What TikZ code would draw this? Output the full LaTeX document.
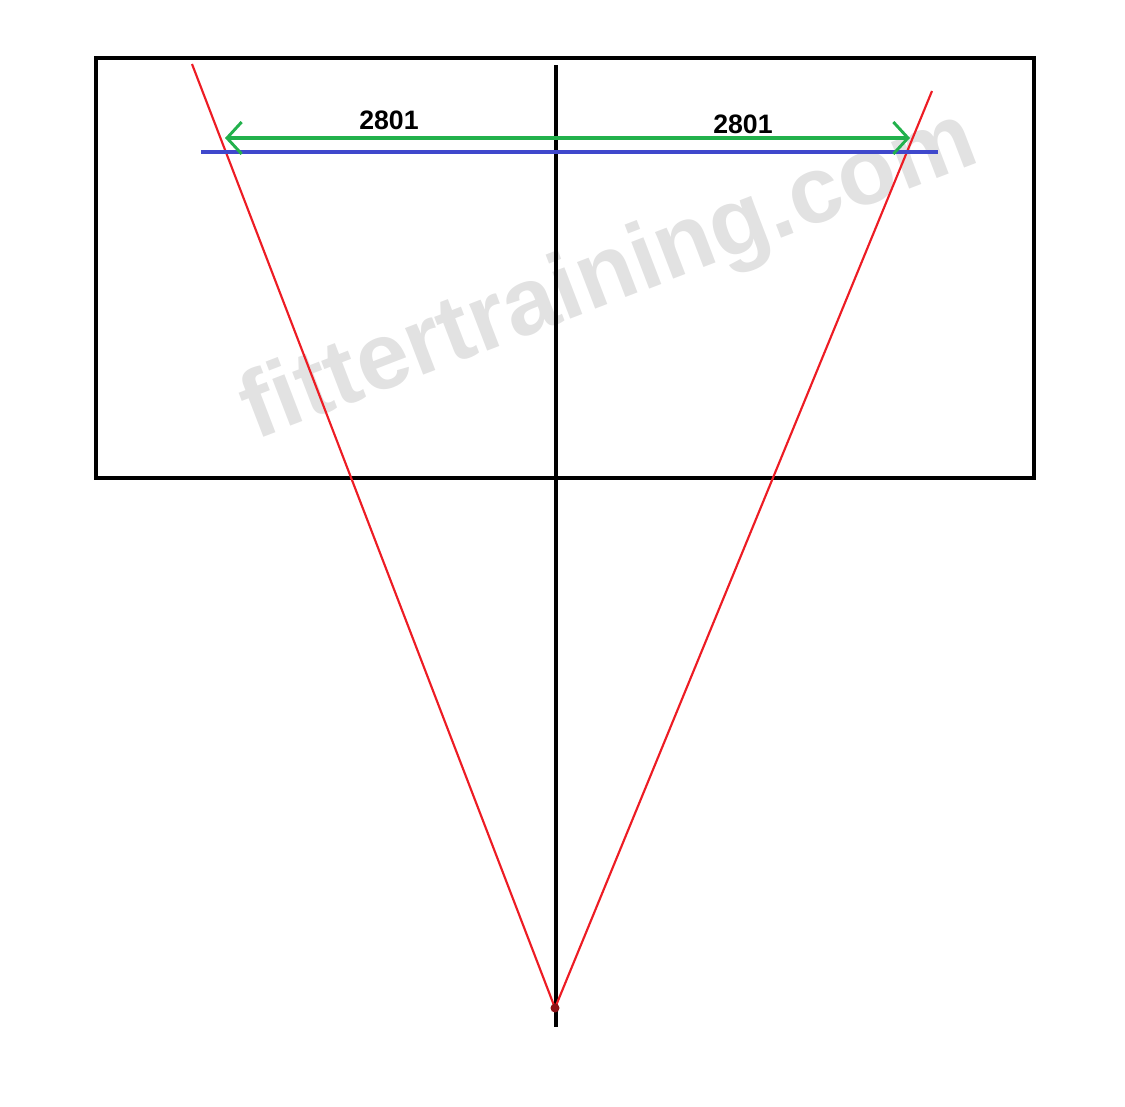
\documentclass[tikz,border=0pt]{standalone}
\usepackage{fontspec}
\setmainfont{Liberation Sans}
\usetikzlibrary{arrows.meta}
\definecolor{pRed}{RGB}{237,28,36}
\definecolor{pGreen}{RGB}{34,177,76}
\definecolor{pBlue}{RGB}{63,72,204}
\definecolor{pMark}{RGB}{226,226,226}
\tikzset{every picture/.style={line width=0.75pt}}
\tikzset{
  frameline/.style={line width=2.4pt, black},
  rayline/.style={line width=1.6pt, pRed},
  chordline/.style={line width=2.3pt, pBlue},
  dimline/.style={line width=2.3pt, pGreen, {Straight Barb[length=11pt,width=24pt,line width=2.2pt]}-{Straight Barb[length=11pt,width=24pt,line width=2.2pt]}},
  dimlabel/.style={inner sep=0.75pt, font=\fontsize{20}{24}\selectfont\bfseries}
}

\begin{document}
\begin{tikzpicture}[x=0.75pt,y=0.75pt,yscale=-1,xscale=1]
\useasboundingbox (0,0) rectangle (1125,1107);

%Watermark
\node (mark) [rotate=21, text=pMark, inner sep=0pt, font=\fontsize{71}{80}\selectfont\bfseries] at (610,278) {fittertraining.com};

%Points
\coordinate (apex) at (555,1008);
\coordinate (leftTop) at (192,64);
\coordinate (rightTop) at (932,91);
\coordinate (axisTop) at (556,65);
\coordinate (axisBot) at (556,1027);
\coordinate (chordL) at (201,152);
\coordinate (chordR) at (938,152);
\coordinate (dimL) at (225,138);
\coordinate (dimR) at (910,138);

%Shape: Rectangle
\draw [frameline] (96,58) rectangle (1034,478);
%Straight Lines: centre axis
\draw [frameline] (axisTop) -- (axisBot);
%Straight Lines: rays
\draw [rayline] (leftTop) -- (apex) -- (rightTop);
\fill [pRed!60!black] (apex) circle (4.5);
%Straight Lines: chord
\draw [chordline] (chordL) -- (chordR);
%Straight Lines: dimension
\draw [dimline] (dimL) -- (dimR);

% Text Node
\node (lblLeft) [dimlabel] at (389,120) {2801};
% Text Node
\node (lblRight) [dimlabel] at (743,124) {2801};

\end{tikzpicture}
\end{document}
